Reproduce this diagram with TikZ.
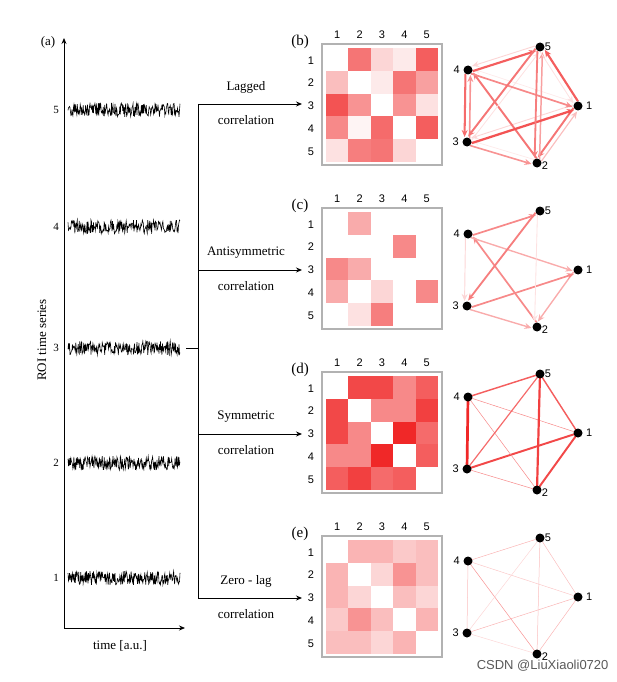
\documentclass[tikz,border=0pt]{standalone}
\usepackage{fontspec}
\setmainfont{Liberation Serif}
\newfontfamily\arial{Liberation Sans}
\usetikzlibrary{calc,arrows.meta}
\definecolor{mred}{RGB}{240,40,40}
\tikzset{
 lbl/.style={font=\fontsize{13}{14}\selectfont},
 num/.style={font=\arial\fontsize{11}{12}\selectfont},
 branch/.style={line width=0.9pt,-{Stealth[length=6pt,width=5pt]}},
 dot/.style={circle,fill=black,inner sep=0pt,minimum size=9pt},
}
\newcommand\drawmat[2]{%
 \draw[gray!60,line width=1.6pt] (322,44+#1) rectangle (442,165+#1);
 \foreach \myv [count=\myk from 0] in {#2} {
  \pgfmathtruncatemacro\myr{floor(\myk/5)}
  \pgfmathtruncatemacro\myc{mod(\myk,5)}
  \pgfmathtruncatemacro\myp{\myv*100}
  \fill[mred!\myp!white] (326+22.4*\myc,48+#1+22.8*\myr) rectangle ++(22.4,22.8);
 }
 \foreach \i in {1,...,5} {
  \node[num] at (311,37.5+22.8*\i+#1) {\i};
  \node[num] at (314.8+22.4*\i,35+#1) {\i};
 }
}
\newcommand\graphpts[2]{%
 \coordinate (#1n1) at (578,106+#2);
 \coordinate (#1n2) at (537,163+#2);
 \coordinate (#1n3) at (467,142+#2);
 \coordinate (#1n4) at (468,70+#2);
 \coordinate (#1n5) at (540,47+#2);
}
\newcommand\graphdots[1]{%
 \node[dot] (#1d1) at (#1n1) {}; \node[num,right=0pt] at (#1d1.east) {1};
 \node[dot] (#1d2) at (#1n2) {}; \node[num,anchor=south west,inner sep=0pt] at ($(#1d2.east)+(0,7)$) {2};
 \node[dot] (#1d3) at (#1n3) {}; \node[num,left=0pt] at (#1d3.west) {3};
 \node[dot] (#1d4) at (#1n4) {}; \node[num,left=0pt] at (#1d4.west) {4};
 \node[dot] (#1d5) at (#1n5) {}; \node[num,anchor=south west,inner sep=0pt] at ($(#1d5.east)+(0,4)$) {5};
}
\newcommand\diredges[2]{%
 \foreach \myv [count=\myk from 0] in {#2} {
  \pgfmathtruncatemacro\myr{floor(\myk/5)+1}
  \pgfmathtruncatemacro\myc{mod(\myk,5)+1}
  \pgfmathtruncatemacro\myp{\myv*100}
  \pgfmathsetmacro\myw{0.5+2.2*\myv}
  \ifnum\myr=\myc\relax\else\ifnum\myp>5\relax
   \draw[mred!\myp!white,line width=\myw pt,-{Stealth[length=7pt,width=6pt]},shorten >=5pt,shorten <=4pt]
     ($(#1n\myr)!2.5pt!-90:(#1n\myc)$) -- ($(#1n\myc)!2.5pt!90:(#1n\myr)$);
  \fi\fi
 }
}
\newcommand\undedges[2]{%
 \foreach \myv [count=\myk from 0] in {#2} {
  \pgfmathtruncatemacro\myr{floor(\myk/5)+1}
  \pgfmathtruncatemacro\myc{mod(\myk,5)+1}
  \pgfmathtruncatemacro\myp{\myv*100}
  \pgfmathsetmacro\myw{max(0.5,5*\myv-2.3)}
  \ifnum\myr<\myc\relax
   \draw[mred!\myp!white,line width=\myw pt] (#1n\myr) -- (#1n\myc);
  \fi
 }
}
\begin{document}
\begin{tikzpicture}[x=1pt,y=-1pt]
\useasboundingbox (0,0) rectangle (616,682);
% panel (a)
\node[lbl] at (48,42) {(a)};
\coordinate (ax0) at (64,628);
\coordinate (axy) at (64,38);
\coordinate (axx) at (185,628);
\draw[line width=0.8pt,-{Stealth[length=6pt,width=5pt]}] (ax0) -- (axy);
\draw[line width=0.8pt,-{Stealth[length=6pt,width=5pt]}] (ax0) -- (axx);
\node[lbl] at (120,646) {time [a.u.]};
\node[lbl,rotate=90] at (42,340) {ROI time series};
\pgfmathsetseed{11}
\foreach \n/\yy in {5/110,4/227,3/348,2/463,1/578} {
 \node[lbl,font=\fontsize{11}{12}\selectfont] at (56,\yy) {\n};
 \draw[line width=0.6pt] plot[domain=68:180,samples=230] (\x,{\yy+7*rand});
}
% bracket
\coordinate (br0) at (186,348);
\coordinate (br1) at (198,348);
\coordinate (bt) at (198,104);
\coordinate (bb) at (198,598);
\draw[line width=0.9pt] (br0) -- (br1);
\draw[line width=0.9pt] (bt) -- (bb);
\foreach \yy/\ta in {104/Lagged,270/Antisymmetric,434/Symmetric,598/Zero - lag} {
 \coordinate (s) at (198,\yy);
 \coordinate (e) at (302,\yy);
 \draw[branch] (s) -- (e);
 \node[lbl] at (246,\yy-17) {\ta};
 \node[lbl] at (246,\yy+16) {correlation};
}
\node[lbl,font=\fontsize{15}{16}\selectfont] at (300,42) {(b)};
\node[lbl,font=\fontsize{15}{16}\selectfont] at (300,206) {(c)};
\node[lbl,font=\fontsize{15}{16}\selectfont] at (300,370) {(d)};
\node[lbl,font=\fontsize{15}{16}\selectfont] at (300,534) {(e)};
% (b)
\drawmat{0}{0,.65,.2,.1,.75,.3,0,.1,.65,.45,.8,.5,0,.5,.15,.55,.05,.7,0,.75,.15,.6,.65,.2,0}
\graphpts{b}{0}
\diredges{b}{0,.65,.2,.1,.75,.3,0,.1,.65,.45,.8,.5,0,.5,.15,.55,.05,.7,0,.75,.15,.6,.65,.2,0}
\graphdots{b}
% (c)
\drawmat{164}{0,.4,0,0,0,0,0,0,.55,0,.55,.4,0,0,0,.4,0,.2,0,.55,0,.15,.6,0,0}
\graphpts{c}{164}
\diredges{c}{0,.4,0,0,0,0,0,0,.55,0,.55,.4,0,0,0,.4,0,.2,0,.55,0,.15,.6,0,0}
\graphdots{c}
% (d)
\drawmat{328}{0,.85,.85,.55,.75,.85,0,.55,.55,.9,.85,.55,0,1,.7,.55,.55,1,0,.75,.75,.9,.7,.75,0}
\graphpts{d}{327}
\undedges{d}{0,.85,.85,.55,.75,.85,0,.55,.55,.9,.85,.55,0,1,.7,.55,.55,1,0,.75,.75,.9,.7,.75,0}
\graphdots{d}
% (e)
\drawmat{492}{0,.35,.35,.25,.3,.35,0,.2,.5,.3,.35,.2,0,.3,.2,.25,.5,.3,0,.35,.3,.3,.2,.35,0}
\graphpts{e}{491}
\undedges{e}{0,.35,.35,.25,.3,.35,0,.2,.5,.3,.35,.2,0,.3,.2,.25,.5,.3,0,.35,.3,.3,.2,.35,0}
\graphdots{e}
\node[font=\arial\fontsize{13}{14}\selectfont,gray!70!black,anchor=east] at (612,666) {CSDN @LiuXiaoli0720};
\end{tikzpicture}
\end{document}
